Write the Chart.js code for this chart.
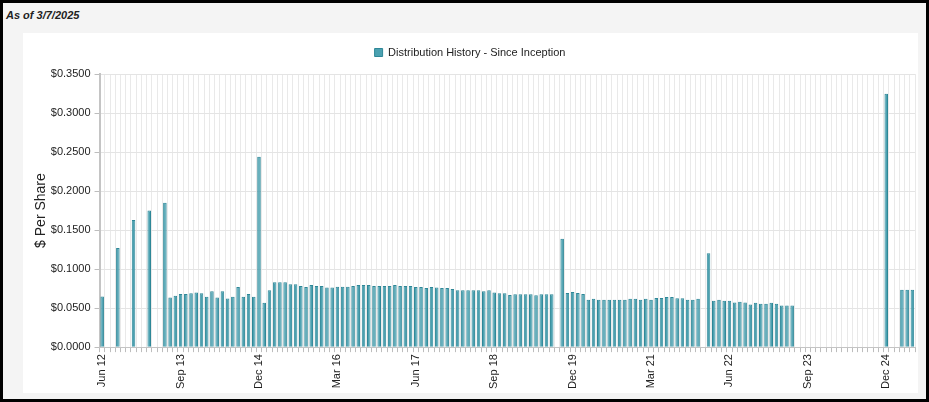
<!DOCTYPE html>
<html>
<head>
<meta charset="utf-8">
<script src="https://cdn.jsdelivr.net/npm/chart.js@4.4.1/dist/chart.umd.min.js"></script>
<style>
  html, body { margin:0; padding:0; background:#fff; }
  #frame {
    position:relative; width:929px; height:402px; box-sizing:border-box;
    border:3px solid #000; background:#f4f4f4; font-family:"Liberation Sans", Arial, sans-serif;
  }
  #asof {
    position:absolute; left:3px; top:6px; font-size:11px; font-weight:bold;
    font-style:italic; color:#222;
  }
  #panel {
    position:absolute; left:20px; top:30px; width:895px; height:360px; background:#fff;
  }
</style>
</head>
<body>
<div id="frame">
  <div id="asof">As of 3/7/2025</div>
  <div id="panel"><canvas id="chart"></canvas></div>
</div>
<script>
const MONTHS = ["Jan","Feb","Mar","Apr","May","Jun","Jul","Aug","Sep","Oct","Nov","Dec"]
const START_YEAR = 2012, START_MONTH = 5, MONTH_COUNT = 156
const LABEL_EVERY = 15

const yTicks = [0, 0.05, 0.10, 0.15, 0.20, 0.25, 0.30, 0.35]

// one value per month, null = no distribution that month
const distributions = [
  0.065, null, null, 0.127, null, null, 0.163, null, null, 0.175, null, null, 0.185,
  0.0636, 0.0657, 0.068, 0.068, 0.069, 0.070, 0.069, 0.0645, 0.0717, 0.0636,
  0.0717, 0.0623, 0.0645, 0.0772, 0.0645, 0.068, 0.0645,
  0.244, 0.057, 0.073, 0.083, 0.083, 0.083, 0.0805, 0.0805, 0.0784, 0.0771,
  0.0797, 0.0784, 0.0784, 0.0763, 0.0763, 0.0775, 0.0775, 0.0775, 0.0784, 0.0797,
  0.0797, 0.0797, 0.0784, 0.0784, 0.0784, 0.0784, 0.0797, 0.0784, 0.0784, 0.0784,
  0.0771, 0.0771, 0.0758, 0.0771, 0.0763, 0.0758, 0.0758, 0.0746, 0.0729, 0.0729,
  0.0729, 0.0729, 0.0729, 0.0716, 0.0729, 0.0699, 0.0691, 0.0691, 0.0669, 0.0678,
  0.0678, 0.0678, 0.0678, 0.0665, 0.0678, 0.0678, 0.0678, null, 0.139, 0.0695,
  0.0708, 0.0695, 0.0682, 0.0606, 0.0619, 0.0606, 0.0606, 0.0606, 0.0606, 0.0606,
  0.0606, 0.0619, 0.0619, 0.0606, 0.0619, 0.0606, 0.0631, 0.0631, 0.0644, 0.0644,
  0.0627, 0.0627, 0.0606, 0.0606, 0.0619, null, 0.1203, 0.0593, 0.0606, 0.0593,
  0.0593, 0.0572, 0.058, 0.0572, 0.0547, 0.0568, 0.0555, 0.0555, 0.0568, 0.0555,
  0.0534, 0.0534, 0.0534,
  null, null, null, null, null, null, null, null, null, null, null, null, null, null, null, null, null,
  0.3248, null, null, 0.0735, 0.0735, 0.0735
]

const months = []
for (let i = 0; i < MONTH_COUNT; i++) {
  const m = (START_MONTH + i) % 12
  const y = START_YEAR + Math.floor((START_MONTH + i) / 12)
  months.push(MONTHS[m] + " " + String(y).slice(2))
}

const FONT = "'Liberation Sans', Arial, sans-serif"

// push the plot down a bit below the legend
const legendGap = {
  id: "legendGap",
  beforeLayout(chart) {
    const lg = chart.legend
    if (!lg || lg._gapPatched) return
    const fit = lg.fit
    lg.fit = function () { fit.call(this); this.height += 6 }
    lg._gapPatched = true
  }
}

new Chart(document.getElementById("chart"), {
  type: "bar",
  data: {
    labels: months,
    datasets: [{
      label: "Distribution History - Since Inception",
      data: distributions,
      backgroundColor: "#4ba1b1",
      borderColor: "#2e8797",
      borderWidth: 1,
      categoryPercentage: 1,
      barPercentage: 0.68
    }]
  },
  plugins: [legendGap],
  options: {
    responsive: true,
    maintainAspectRatio: false,
    animation: false,
    layout: { padding: { left: 2, right: 3, top: 2, bottom: 2 } },
    plugins: {
      legend: {
        labels: {
          boxWidth: 8, boxHeight: 8, padding: 12,
          color: "#222", font: { family: FONT, size: 11 }
        }
      },
      tooltip: { enabled: false }
    },
    scales: {
      x: {
        grid: { color: "#e9e9e9", tickLength: 5, tickColor: "#bdbdbd" },
        border: { color: "#c4c4c4" },
        afterFit: s => { s.paddingRight = 0; s.paddingLeft = 0 },
        ticks: {
          autoSkip: false, maxRotation: 90, minRotation: 90, padding: 2,
          color: "#222", font: { family: FONT, size: 11 },
          callback: (v, i) => i % LABEL_EVERY === 0 ? months[i] : ""
        }
      },
      y: {
        min: 0, max: yTicks[yTicks.length - 1],
        afterBuildTicks: s => { s.ticks = yTicks.map(v => ({ value: v })) },
        grid: { color: "#e4e4e4", tickLength: 5, tickColor: "#bdbdbd" },
        border: { color: "#c4c4c4", width: 2 },
        title: {
          display: true, text: "$ Per Share", color: "#222", padding: { top: 8, bottom: -3 },
          font: { family: FONT, size: 14 }
        },
        ticks: {
          padding: 4, color: "#222", font: { family: FONT, size: 11 },
          callback: v => "$" + Number(v).toFixed(4)
        }
      }
    }
  }
})
</script>
</body>
</html>
